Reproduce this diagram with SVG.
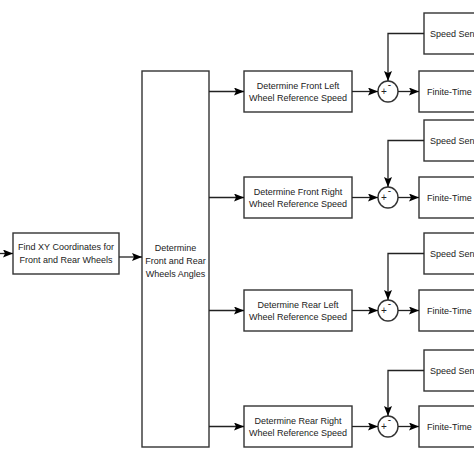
<svg xmlns="http://www.w3.org/2000/svg" width="474" height="474" viewBox="0 0 474 474">
<defs>
<marker id="ah" viewBox="0 0 10 8" refX="10" refY="4" markerWidth="10" markerHeight="8" markerUnits="userSpaceOnUse" orient="auto">
<path d="M0,0 L10,4 L0,8 L2,4 Z" fill="#000" stroke="none"/>
</marker>
<style>
.box{fill:#fff;stroke:#333;stroke-width:1.4}
.ar{fill:none;stroke:#222;stroke-width:1.3}
text{font-family:"Liberation Sans",Arial,sans-serif;font-size:9px;fill:#222}
.c{text-anchor:middle}
.sg{font-size:10px;text-anchor:middle}
</style>
</defs>
<rect width="474" height="474" fill="#fff"/>

<g id="find-xy">
<rect class="box" x="13" y="233" width="106" height="41"/>
<text class="c" x="66" y="250">Find XY Coordinates for</text>
<text class="c" x="66" y="263">Front and Rear Wheels</text>
</g>

<g id="angles">
<rect class="box" x="142" y="71" width="67" height="376"/>
<text class="c" x="175.5" y="251">Determine</text>
<text class="c" x="175.5" y="264">Front and Rear</text>
<text class="c" x="175.5" y="277">Wheels Angles</text>
</g>

<g id="ref-fl">
<rect class="box" x="244" y="71" width="108" height="41"/>
<text class="c" x="298" y="89">Determine Front Left</text>
<text class="c" x="298" y="101">Wheel Reference Speed</text>
</g>
<g id="ref-fr">
<rect class="box" x="244" y="177" width="108" height="41"/>
<text class="c" x="298" y="195">Determine Front Right</text>
<text class="c" x="298" y="207">Wheel Reference Speed</text>
</g>
<g id="ref-rl">
<rect class="box" x="244" y="290" width="108" height="41"/>
<text class="c" x="298" y="308">Determine Rear Left</text>
<text class="c" x="298" y="320">Wheel Reference Speed</text>
</g>
<g id="ref-rr">
<rect class="box" x="244" y="406" width="108" height="41"/>
<text class="c" x="298" y="424">Determine Rear Right</text>
<text class="c" x="298" y="436">Wheel Reference Speed</text>
</g>

<g id="sum1">
<ellipse class="box" cx="388" cy="91.5" rx="10" ry="10.5"/>
<text class="sg" x="389.5" y="88">-</text>
<text class="sg" x="384" y="95">+</text>
</g>
<g id="sum2">
<ellipse class="box" cx="388" cy="197.5" rx="10" ry="10.5"/>
<text class="sg" x="389.5" y="194">-</text>
<text class="sg" x="384" y="201">+</text>
</g>
<g id="sum3">
<ellipse class="box" cx="388" cy="310.5" rx="10" ry="10.5"/>
<text class="sg" x="389.5" y="307">-</text>
<text class="sg" x="384" y="314">+</text>
</g>
<g id="sum4">
<ellipse class="box" cx="388" cy="426.5" rx="10" ry="10.5"/>
<text class="sg" x="389.5" y="423">-</text>
<text class="sg" x="384" y="430">+</text>
</g>

<g id="ft1"><rect class="box" x="419" y="71" width="80" height="41"/><text x="427" y="95">Finite-Time</text></g>
<g id="ft2"><rect class="box" x="419" y="177" width="80" height="41"/><text x="427" y="201">Finite-Time</text></g>
<g id="ft3"><rect class="box" x="419" y="290" width="80" height="41"/><text x="427" y="314">Finite-Time</text></g>
<g id="ft4"><rect class="box" x="419" y="406" width="80" height="41"/><text x="427" y="430">Finite-Time</text></g>

<g id="ss1"><rect class="box" x="424" y="13" width="80" height="41"/><text x="430" y="37" font-size="8.8">Speed Sen</text></g>
<g id="ss2"><rect class="box" x="424" y="120" width="80" height="41"/><text x="430" y="144" font-size="8.8">Speed Sen</text></g>
<g id="ss3"><rect class="box" x="424" y="233" width="80" height="41"/><text x="430" y="257" font-size="8.8">Speed Sen</text></g>
<g id="ss4"><rect class="box" x="424" y="350" width="80" height="41"/><text x="430" y="374" font-size="8.8">Speed Sen</text></g>

<g id="connectors">
<path class="ar" marker-end="url(#ah)" d="M0,253.5 H13"/>
<path class="ar" marker-end="url(#ah)" d="M119,257 H142"/>
<path class="ar" marker-end="url(#ah)" d="M209,91.5 H244"/>
<path class="ar" marker-end="url(#ah)" d="M209,197.5 H244"/>
<path class="ar" marker-end="url(#ah)" d="M209,310.5 H244"/>
<path class="ar" marker-end="url(#ah)" d="M209,426.5 H244"/>
<path class="ar" marker-end="url(#ah)" d="M352,91.5 H378"/>
<path class="ar" marker-end="url(#ah)" d="M352,197.5 H378"/>
<path class="ar" marker-end="url(#ah)" d="M352,310.5 H378"/>
<path class="ar" marker-end="url(#ah)" d="M352,426.5 H378"/>
<path class="ar" marker-end="url(#ah)" d="M398,91.5 H419"/>
<path class="ar" marker-end="url(#ah)" d="M398,197.5 H419"/>
<path class="ar" marker-end="url(#ah)" d="M398,310.5 H419"/>
<path class="ar" marker-end="url(#ah)" d="M398,426.5 H419"/>
<path class="ar" marker-end="url(#ah)" d="M424,33.5 H388 V81"/>
<path class="ar" marker-end="url(#ah)" d="M424,140.5 H388 V187"/>
<path class="ar" marker-end="url(#ah)" d="M424,253.5 H388 V300"/>
<path class="ar" marker-end="url(#ah)" d="M424,370.5 H388 V416"/>
</g>
</svg>
